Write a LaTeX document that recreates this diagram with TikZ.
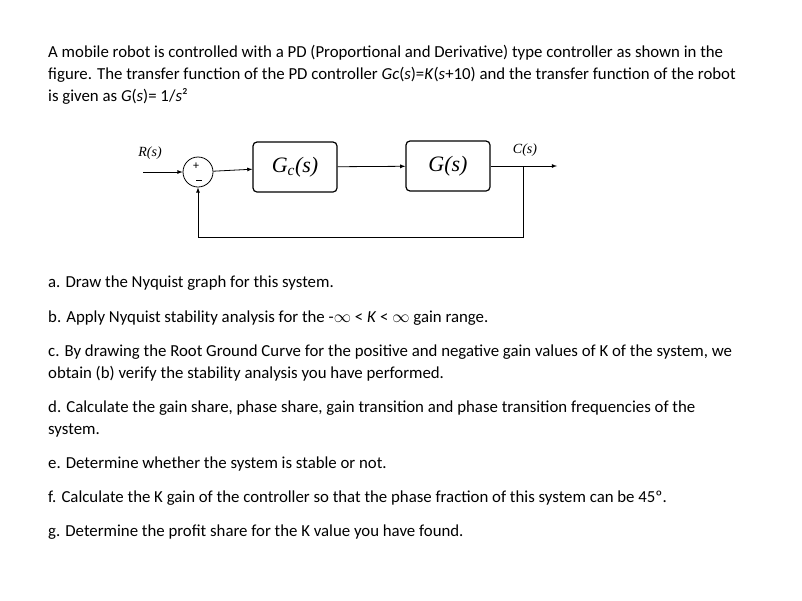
\documentclass[tikz,border=0pt]{standalone}
\usepackage{fontspec}
\setmainfont{Carlito}
\newfontfamily\mth{Liberation Serif}
\usetikzlibrary{positioning}
\tikzset{
  txt/.style={anchor=base west, inner sep=0pt, font=\fontsize{16.8}{19}\selectfont},
  blk/.style={draw, very thick, rounded corners=4pt, minimum width=84pt, minimum height=50pt, font=\mth\itshape\fontsize{22}{24}\selectfont},
  lbl/.style={font=\mth\itshape\fontsize{14}{16}\selectfont},
  sig/.style={->, >=latex, thick}
}
\begin{document}
\begin{tikzpicture}[x=1pt,y=-1pt]
    \useasboundingbox (0,0) rectangle (802,600);

    \node[txt] (l1) at (48,57) {A mobile robot is controlled with a PD (Proportional and Derivative) type controller as shown in the};
    \node[txt] (l2) at (48,79) {figure. The transfer function of the PD controller \textit{Gc}(\textit{s})=\textit{K}(\textit{s}+10) and the transfer function of the robot};
    \node[txt] (l3) at (48,101) {is given as \textit{G}(\textit{s})= 1/\textit{s}²};

    % block diagram
    \node[draw, thick, circle, minimum size=30pt, inner sep=0pt] (sum) at (198,172) {};
    \node[inner sep=0pt, font=\fontsize{12}{12}\selectfont] (plus) at (196,166) {+};
    \draw (196,180) -- (202,180);
    \node[blk] (gc) at (295,167) {G\textsubscript{c}(s)};
    \node[blk] (g) at (448,166) {G(s)};
    \coordinate (in) at (143,172);
    \coordinate (br) at (523,166);
    \coordinate (out) at (557,166);
    \coordinate (fb) at (198,237);
    \draw[sig] (in) -- (sum);
    \draw[sig] (sum) -- (gc);
    \draw[sig] (gc) -- (g);
    \draw[sig] (g) -- (out);
    \draw[sig] (br) |- (fb) -- (sum);
    \node[lbl] (r) at (150,153) {R(s)};
    \node[lbl] (c) at (525,150) {C(s)};

    \node[txt] (qa) at (48,287) {a. Draw the Nyquist graph for this system.};
    \node[txt] (qb) at (48,322) {b. Apply Nyquist stability analysis for the -$\infty$ < \textit{K} < $\infty$ gain range.};
    \node[txt] (qc1) at (48,356) {c. By drawing the Root Ground Curve for the positive and negative gain values of K of the system, we};
    \node[txt] (qc2) at (48,378) {obtain (b) verify the stability analysis you have performed.};
    \node[txt] (qd1) at (48,412) {d. Calculate the gain share, phase share, gain transition and phase transition frequencies of the};
    \node[txt] (qd2) at (48,434) {system.};
    \node[txt] (qe) at (48,468) {e. Determine whether the system is stable or not.};
    \node[txt] (qf) at (48,502) {f. Calculate the K gain of the controller so that the phase fraction of this system can be 45º.};
    \node[txt] (qg) at (48,536) {g. Determine the profit share for the K value you have found.};
\end{tikzpicture}
\end{document}
